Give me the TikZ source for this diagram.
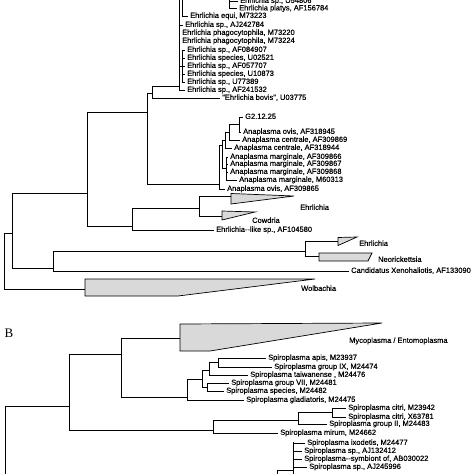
\documentclass[tikz,border=0pt]{standalone}
\usepackage{fontspec}
\setmainfont{Liberation Sans}
\newfontfamily\lblfam[FakeBold=0.35]{Liberation Sans}
\newfontfamily\serifB{Liberation Serif}
\newcommand\lblfont{\lblfam\fontsize{7.5}{8}\selectfont}
\newcommand\tbr[2]{\draw[br] (#1 |- #2) -- (#2);}
\newcommand\tlf[2]{\draw[br] (#1 |- #2) -- ([xshift=-2pt]#2.west);}
\newcommand\tsp[3]{\draw[br] (#1 |- #2) -- (#1 |- #3);}
\begin{document}
\begin{tikzpicture}[x=1pt,y=-1pt,
  br/.style={line width=0.7pt},
  lbl/.style={anchor=west, inner sep=0pt, font=\lblfont, text height=5.4pt, text depth=1.6pt},
  clade/.style={draw, line width=0.7pt, fill=black!15, line join=miter}]
\useasboundingbox (0,0) rectangle (474,474);

% ---------------- Panel A labels
\node[lbl] (u54806) at (240,1) {Ehrlichia sp., U54806};
\node[lbl] (platys) at (239,8.5) {Ehrlichia platys, AF156784};
\node[lbl] (equi) at (190,16) {Ehrlichia equi, M73223};
\node[lbl] (aj242784) at (185,25) {Ehrlichia sp., AJ242784};
\node[lbl] (m73220) at (182,33) {Ehrlichia phagocytophila, M73220};
\node[lbl] (m73224) at (182,41) {Ehrlichia phagocytophila, M73224};
\node[lbl] (af084907) at (187,50) {Ehrlichia sp., AF084907};
\node[lbl] (u02521) at (187,58) {Ehrlichia species, U02521};
\node[lbl] (af057707) at (187,66) {Ehrlichia sp., AF057707};
\node[lbl] (u10873) at (187,74) {Ehrlichia species, U10873};
\node[lbl] (u77389) at (187,82) {Ehrlichia sp., U77389};
\node[lbl] (af241532) at (187,90) {Ehrlichia sp., AF241532};
\node[lbl] (bovis) at (222,98) {"Ehrlichia bovis", U03775};
\node[lbl] (g2) at (245,117) {G2.12.25};
\node[lbl] (af318945) at (243,132) {Anaplasma ovis, AF318945};
\node[lbl] (af309869) at (242,140) {Anaplasma centrale, AF309869};
\node[lbl] (af318944) at (234,148) {Anaplasma centrale, AF318944};
\node[lbl] (af309866) at (230,157) {Anaplasma marginale, AF309866};
\node[lbl] (af309867) at (230,164) {Anaplasma marginale, AF309867};
\node[lbl] (af309868) at (230,172) {Anaplasma marginale, AF309868};
\node[lbl] (m60313) at (239,180) {Anaplasma marginale, M60313};
\node[lbl] (af309865) at (227,189) {Anaplasma ovis, AF309865};
\node[lbl] (ehrl1) at (300,208) {Ehrlichia};
\node[lbl] (cowdria) at (252,221) {Cowdria};
\node[lbl] (af104580) at (216,230) {Ehrlichia--like sp., AF104580};
\node[lbl] (ehrl2) at (359,244) {Ehrlichia};
\node[lbl] (neor) at (378,260) {Neorickettsia};
\node[lbl] (cand) at (351,271) {Candidatus Xenohaliotis, AF133090};
\node[lbl] (wolb) at (301,289) {Wolbachia};

% ---------------- Panel A internal nodes
\coordinate (nP) at (229,-10);
\coordinate (nEq) at (182,-10);
\coordinate (nE2top) at (179,-10);
\coordinate (nE2) at (179,86);
\coordinate (nSub) at (182,66);
\coordinate (nE1) at (152,93);
\coordinate (nE0) at (147,112);
\coordinate (nA0) at (219,184);
\coordinate (nA1) at (222,145);
\coordinate (nA2) at (225,140);
\coordinate (nA4) at (229,132);
\coordinate (nA5) at (239,124);
\coordinate (nA3) at (226,168);
\coordinate (nR2) at (87,193);
\coordinate (nR3) at (132,226);
\coordinate (nC) at (199,208);
\coordinate (nR1) at (12,233);
\coordinate (nR4) at (53,268);
\coordinate (nR5) at (305,251);
\coordinate (nR0) at (4,260);
\coordinate (t1) at (231,196);
\coordinate (t2) at (222,216);
\coordinate (t3) at (338,241);
\coordinate (t4) at (319,256);
\coordinate (t5) at (85,289);

% clades (collapsed)
\draw[clade] (231,193.5) -- (294,196) -- (231,204) -- cycle;
\draw[clade] (222,211) -- (255,212) -- (222,220) -- cycle;
\draw[clade] (338,237.5) -- (357,237) -- (338,245.5) -- cycle;
\draw[clade] (319,253) -- (372,253) -- (368,261) -- (319,261) -- cycle;
\draw[clade] (85,279) -- (315,279) -- (178,296) -- (85,296) -- cycle;

% branches
\tsp{nP}{nP}{platys} \tlf{nP}{u54806} \tlf{nP}{platys}
\tsp{nEq}{nEq}{equi} \tlf{nEq}{equi}
\tsp{nE2}{nE2top}{af241532}
\tlf{nE2}{aj242784} \tlf{nE2}{m73220} \tlf{nE2}{m73224} \tlf{nE2}{af241532}
\tbr{nE2}{nSub}
\tsp{nSub}{af084907}{u77389}
\tlf{nSub}{af084907} \tlf{nSub}{u02521} \tlf{nSub}{af057707} \tlf{nSub}{u10873} \tlf{nSub}{u77389}
\tsp{nE1}{nE2}{bovis} \tbr{nE1}{nE2} \tlf{nE1}{bovis}
\tsp{nE0}{nE1}{nA0} \tbr{nE0}{nE1} \tbr{nE0}{nA0}
\tsp{nA0}{nA1}{af309865} \tbr{nA0}{nA1} \tlf{nA0}{af309865}
\tsp{nA1}{nA2}{nA3} \tbr{nA1}{nA2} \tbr{nA1}{nA3}
\tsp{nA2}{nA4}{af318944} \tbr{nA2}{nA4} \tlf{nA2}{af318944}
\tsp{nA4}{nA5}{af309869} \tbr{nA4}{nA5} \tlf{nA4}{af309869}
\tsp{nA5}{g2}{af318945} \tlf{nA5}{g2} \tlf{nA5}{af318945}
\tsp{nA3}{af309866}{m60313}
\tlf{nA3}{af309866} \tlf{nA3}{af309867} \tlf{nA3}{af309868} \tlf{nA3}{m60313}
\tsp{nR2}{nE0}{nR3} \tbr{nR2}{nE0} \tbr{nR2}{nR3}
\tsp{nR3}{nC}{af104580} \tbr{nR3}{nC} \tlf{nR3}{af104580}
\tsp{nC}{t1}{t2} \tbr{nC}{t1} \tbr{nC}{t2}
\tsp{nR1}{nR2}{nR4} \tbr{nR1}{nR2} \tbr{nR1}{nR4}
\tsp{nR4}{nR5}{cand} \tbr{nR4}{nR5} \tlf{nR4}{cand}
\tsp{nR5}{t3}{t4} \tbr{nR5}{t3} \tbr{nR5}{t4}
\tsp{nR0}{nR1}{t5} \tbr{nR0}{nR1} \tbr{nR0}{t5}

% ---------------- Panel B
\node[anchor=center, inner sep=0pt, font=\serifB\fontsize{13}{13}\selectfont] (B) at (9,333) {B};
\node[lbl] (myco) at (349,341) {Mycoplasma / Entomoplasma};
\node[lbl] (apis) at (268,358) {Spiroplasma apis, M23937};
\node[lbl] (gIX) at (274,367) {Spiroplasma group IX, M24474};
\node[lbl] (taiw) at (250,375) {Spiroplasma taiwanense , M24476};
\node[lbl] (gVII) at (231,383) {Spiroplasma group VII, M24481};
\node[lbl] (m24482) at (226,391) {Spiroplasma species, M24482};
\node[lbl] (glad) at (246,400) {Spiroplasma gladiatoris, M24475};
\node[lbl] (citri1) at (348,408) {Spiroplasma citri, M23942};
\node[lbl] (citri2) at (348,417) {Spiroplasma citri, X63781};
\node[lbl] (gII) at (329,424) {Spiroplasma group II, M24483};
\node[lbl] (mirum) at (280,433) {Spiroplasma mirum, M24662};
\node[lbl] (ixod) at (307,443) {Spiroplasma ixodetis, M24477};
\node[lbl] (aj132412) at (304,451) {Spiroplasma sp., AJ132412};
\node[lbl] (ab030022) at (304,459) {Spiroplasma--symbiont of, AB030022};
\node[lbl] (aj245996) at (309,467) {Spiroplasma sp., AJ245996};

\coordinate (nB0) at (5,480);
\coordinate (nB1) at (69,406);
\coordinate (nB2) at (121,354);
\coordinate (nB3) at (187,397);
\coordinate (nB4) at (202,379);
\coordinate (nB5) at (209,370);
\coordinate (nB8) at (218,362);
\coordinate (nB7) at (207,387);
\coordinate (nB6) at (213,430);
\coordinate (nB9) at (298,420);
\coordinate (nB10) at (332,412);
\coordinate (nB11) at (293,470);
\coordinate (nB11top) at (293,442);
\coordinate (nB12) at (277,480);
\coordinate (t6) at (180,338);

\draw[clade] (180,324) -- (382,323) -- (210,351) -- (180,351) -- cycle;

\tsp{nB0}{nB1}{nB0} \tbr{nB0}{nB1}
\tsp{nB1}{nB2}{nB6} \tbr{nB1}{nB2} \tbr{nB1}{nB6}
\tsp{nB2}{t6}{nB3} \tbr{nB2}{t6} \tbr{nB2}{nB3}
\tsp{nB3}{nB4}{glad} \tbr{nB3}{nB4} \tlf{nB3}{glad}
\tsp{nB4}{nB5}{nB7} \tbr{nB4}{nB5} \tbr{nB4}{nB7}
\tsp{nB5}{nB8}{taiw} \tbr{nB5}{nB8} \tlf{nB5}{taiw}
\tsp{nB8}{apis}{gIX} \tlf{nB8}{apis} \tlf{nB8}{gIX}
\tsp{nB7}{gVII}{m24482} \tlf{nB7}{gVII} \tlf{nB7}{m24482}
\tsp{nB6}{nB9}{mirum} \tbr{nB6}{nB9} \tlf{nB6}{mirum}
\tsp{nB9}{nB10}{gII} \tbr{nB9}{nB10} \tlf{nB9}{gII}
\tsp{nB10}{citri1}{citri2} \tlf{nB10}{citri1} \tlf{nB10}{citri2}
\tsp{nB11}{nB11top}{nB12}
\tlf{nB11}{ixod} \tlf{nB11}{aj132412} \tlf{nB11}{ab030022} \tlf{nB11}{aj245996}
\tsp{nB12}{nB11}{nB12} \tbr{nB12}{nB11}
\end{tikzpicture}
\end{document}
